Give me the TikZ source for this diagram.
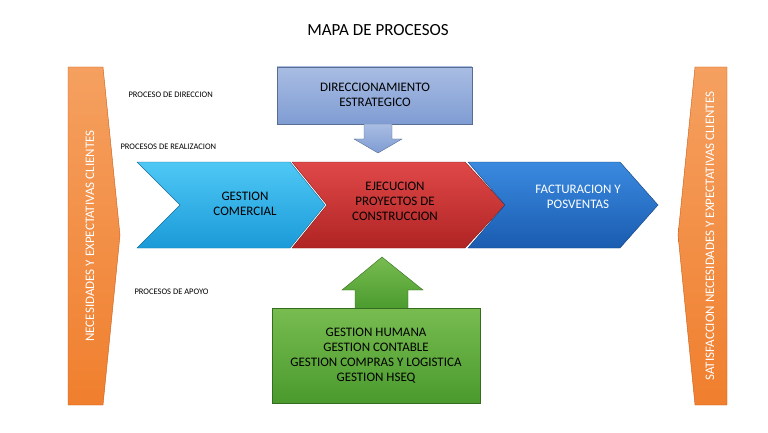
\documentclass[tikz,border=0pt]{standalone}
\usepackage{fontspec}
\setmainfont{Carlito}
\begin{document}
\begin{tikzpicture}[x=1pt,y=-1pt,
  lbl/.style={font=\fontsize{8.5}{9}\selectfont,anchor=west},
  boxtxt/.style={align=center,font=\fontsize{13}{15}\selectfont},
  wtxt/.style={align=center,font=\fontsize{13}{15}\selectfont,text=white,rotate=90}]
\useasboundingbox (0,0) rectangle (768,433);
\definecolor{org}{HTML}{F07F2E}
\definecolor{orgl}{HTML}{F5A060}
\definecolor{orgd}{HTML}{C85A14}
\definecolor{dirt}{HTML}{A9BDE3}
\definecolor{dirb}{HTML}{7F9CD3}
\definecolor{cyt}{HTML}{4FC8F5}
\definecolor{cyb}{HTML}{1A9AD8}
\definecolor{rdt}{HTML}{E04848}
\definecolor{rdb}{HTML}{B02424}
\definecolor{blt}{HTML}{3A8AE0}
\definecolor{blb}{HTML}{1A5CB0}
\definecolor{grt}{HTML}{78BC50}
\definecolor{grb}{HTML}{4A9A2E}
\node[font=\fontsize{17}{20}\selectfont] (title) at (378,30) {MAPA DE PROCESOS};
% side banners
\shade[top color=orgl,bottom color=org,draw=orgd] (68,67)--(103,67)--(120,235)--(103,405)--(68,405)--cycle;
\node[wtxt] (left) at (90,236) {NECESIDADES Y EXPECTATIVAS CLIENTES};
\shade[top color=orgl,bottom color=org,draw=orgd] (727,67)--(695,67)--(678,235)--(695,405)--(727,405)--cycle;
\node[wtxt] (right) at (710,236) {SATISFACCION NECESIDADES Y EXPECTATIVAS CLIENTES};
% labels
\node[lbl] (l1) at (125,95) {PROCESO DE DIRECCION};
\node[lbl] (l2) at (117,147) {PROCESOS DE REALIZACION};
\node[lbl] (l3) at (131,292) {PROCESOS DE APOYO};
% direction
\shade[top color=dirt,bottom color=dirb,draw=dirb!70!black] (277,67) rectangle (472,124);
\node[boxtxt] (dir) at (375,95) {DIRECCIONAMIENTO\\ESTRATEGICO};
\shade[top color=dirt,bottom color=dirb,draw=dirb!70!black] (364,124)--(392,124)--(392,139)--(402,139)--(378,153)--(354,139)--(364,139)--cycle;
% chevrons
\shade[top color=cyt,bottom color=cyb,draw=cyb!70!black] (137,162)--(290,162)--(325,205)--(290,248)--(137,248)--(180,205)--cycle;
\node[boxtxt] (gc) at (245,204) {GESTION\\COMERCIAL};
\shade[top color=rdt,bottom color=rdb,draw=rdb!70!black] (292,162)--(465,162)--(505,205)--(465,248)--(292,248)--(327,205)--cycle;
\node[boxtxt] (ej) at (395,201) {EJECUCION\\PROYECTOS DE\\CONSTRUCCION};
\shade[top color=blt,bottom color=blb,draw=blb!70!black] (468,162)--(620,162)--(658,205)--(620,248)--(468,248)--(505,205)--cycle;
\node[boxtxt,text=white] (fa) at (578,197) {FACTURACION Y\\POSVENTAS};
% support
\shade[top color=grt,bottom color=grb,draw=grb!70!black] (355,310)--(355,290)--(342,290)--(382,257)--(423,290)--(408,290)--(408,310)--cycle;
\shade[top color=grt,bottom color=grb,draw=grb!70!black] (272,308) rectangle (480,403);
\node[boxtxt] (ap) at (376,356) {GESTION HUMANA\\GESTION CONTABLE\\GESTION COMPRAS Y LOGISTICA\\GESTION HSEQ};
\end{tikzpicture}
\end{document}
